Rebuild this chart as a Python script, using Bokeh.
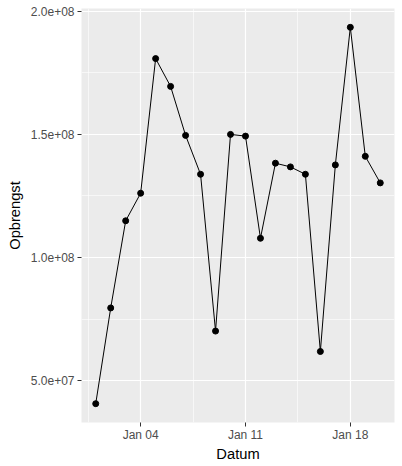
import pandas as pd
from bokeh.plotting import figure
from bokeh.models import FixedTicker, Range1d
from bokeh.embed import file_html
from bokeh.resources import INLINE

# ---- data ----
dates = ["2020-01-01", "2020-01-02", "2020-01-03", "2020-01-04", "2020-01-05",
         "2020-01-06", "2020-01-07", "2020-01-08", "2020-01-09", "2020-01-10",
         "2020-01-11", "2020-01-12", "2020-01-13", "2020-01-14", "2020-01-15",
         "2020-01-16", "2020-01-17", "2020-01-18", "2020-01-19", "2020-01-20"]
opbrengst = [4.06e7, 7.95e7, 1.149e8, 1.261e8, 1.808e8,
             1.695e8, 1.496e8, 1.338e8, 7.01e7, 1.500e8,
             1.493e8, 1.078e8, 1.383e8, 1.368e8, 1.338e8,
             6.18e7, 1.376e8, 1.935e8, 1.411e8, 1.303e8]

x_tick_dates = ["2020-01-04", "2020-01-11", "2020-01-18"]
x_tick_labels = ["Jan 04", "Jan 11", "Jan 18"]
x_minor_dates = ["2019-12-31 12:00", "2020-01-07 12:00", "2020-01-14 12:00", "2020-01-21 12:00"]

y_ticks = [50000000, 100000000, 150000000, 200000000]
y_tick_labels = ["5.0e+07", "1.0e+08", "1.5e+08", "2.0e+08"]
y_minor = [25000000, 75000000, 125000000, 175000000]


def to_ms(lst):
    return [int(pd.Timestamp(d).value // 10**6) for d in lst]


x_ms = to_ms(dates)
x_tick_ms = to_ms(x_tick_dates)
x_minor_ms = to_ms(x_minor_dates)

# ggplot-like 5% expansion
xspan = x_ms[-1] - x_ms[0]
yspan = max(opbrengst) - min(opbrengst)
x_range = Range1d(x_ms[0] - 0.05 * xspan, x_ms[-1] + 0.05 * xspan)
y_range = Range1d(min(opbrengst) - 0.05 * yspan, max(opbrengst) + 0.05 * yspan)

p = figure(width=402, height=466, x_axis_type="datetime",
           output_backend="svg", toolbar_location=None,
           x_range=x_range, y_range=y_range,
           min_border_left=81, min_border_right=8, min_border_top=8, min_border_bottom=44,
           background_fill_color="#EBEBEB", border_fill_color="white",
           outline_line_color=None)

p.line(x_ms, opbrengst, line_color="black", line_width=1)
p.scatter(x_ms, opbrengst, size=6, fill_color="black", line_color="black")

p.xaxis.ticker = FixedTicker(ticks=x_tick_ms, minor_ticks=x_minor_ms)
p.xaxis.major_label_overrides = dict(zip(x_tick_ms, x_tick_labels))
p.yaxis.ticker = FixedTicker(ticks=y_ticks, minor_ticks=y_minor)
p.yaxis.major_label_overrides = dict(zip(y_ticks, y_tick_labels))

p.xaxis.axis_label = "Datum"
p.yaxis.axis_label = "Opbrengst"

for ax in (p.xaxis[0], p.yaxis[0]):
    ax.axis_line_color = None
    ax.major_tick_line_color = "#333333"
    ax.major_tick_line_width = 1
    ax.major_tick_out = 4
    ax.major_tick_in = 0
    ax.minor_tick_line_color = None
    ax.major_label_text_font = "Liberation Sans"
    ax.major_label_text_font_size = "12px"
    ax.major_label_text_color = "#4D4D4D"
    ax.axis_label_text_font = "Liberation Sans"
    ax.axis_label_text_font_size = "14.7px"
    ax.axis_label_text_font_style = "normal"
    ax.axis_label_text_color = "black"

p.yaxis.major_label_standoff = 3
p.yaxis.axis_label_standoff = 5
p.xaxis.major_label_standoff = 1
p.xaxis.axis_label_standoff = 1

for g in (p.xgrid[0], p.ygrid[0]):
    g.grid_line_color = "white"
    g.grid_line_width = 1.2
    g.minor_grid_line_color = "white"
    g.minor_grid_line_width = 0.6

open("out.html", "w").write(file_html(p, INLINE))
